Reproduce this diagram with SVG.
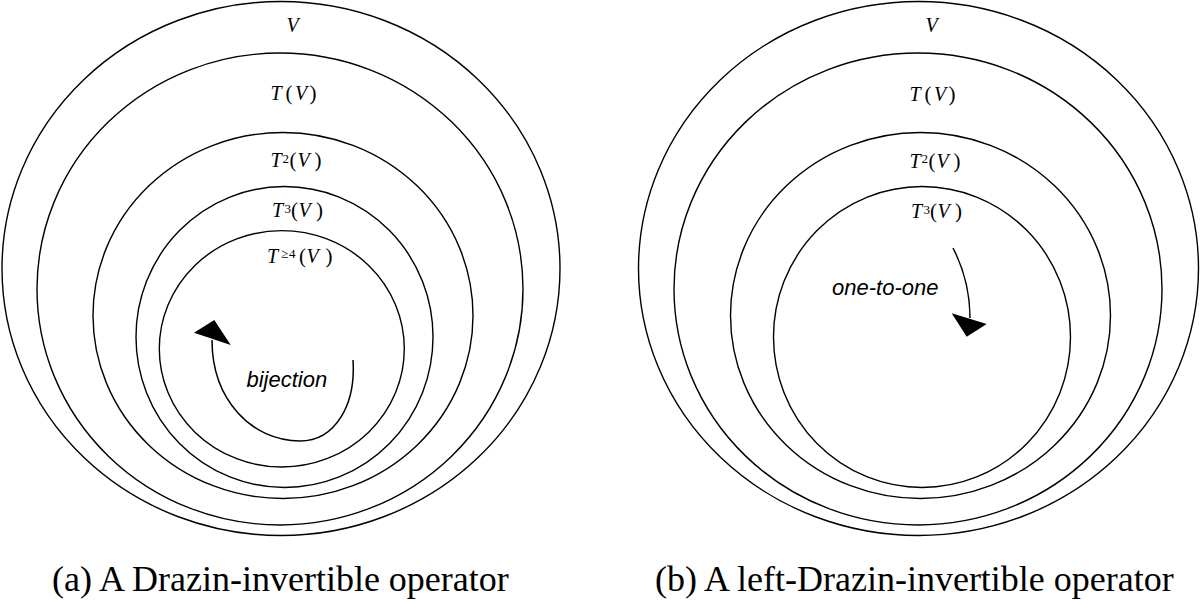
<svg xmlns="http://www.w3.org/2000/svg" width="1200" height="600" viewBox="0 0 1200 600">
<style>
.ring{fill:none;stroke:#000;stroke-width:1.4}
.conn{fill:none;stroke:#000;stroke-width:1.5}
.head{fill:#000;stroke:none}
.m{font-family:"Liberation Serif","Times New Roman",serif;font-size:20px;font-style:italic;fill:#000}
.p{font-family:"Liberation Serif","Times New Roman",serif;font-size:21px;font-style:normal;fill:#000}
.s{font-family:"Liberation Serif","Times New Roman",serif;font-size:13px;font-style:normal;fill:#000}
.lbl{font-family:"Liberation Sans",Arial,sans-serif;font-size:22px;font-style:italic;fill:#000}
.cap{font-family:"Liberation Serif","Times New Roman",serif;font-size:36px;fill:#000}
</style>
<rect width="1200" height="600" fill="#fff"/>

<!-- Panel (a) -->
<g id="a-V">
<ellipse class="ring" cx="281" cy="268.5" rx="279" ry="267"/>
<text class="m" x="286.5" y="31.7">V</text>
</g>
<g id="a-TV">
<ellipse class="ring" cx="280" cy="289" rx="243" ry="236"/>
<text y="100"><tspan class="m" x="270.5">T</tspan><tspan class="p" x="285.5">(</tspan><tspan class="m" x="295">V</tspan><tspan class="p" x="309.5">)</tspan></text>
</g>
<g id="a-T2V">
<ellipse class="ring" cx="283" cy="315.5" rx="190" ry="183"/>
<text y="166.7"><tspan class="m" x="270.5">T</tspan><tspan class="s" x="282.5" y="162.5">2</tspan><tspan class="p" x="289.5" y="166.7">(</tspan><tspan class="m" x="297.5">V</tspan><tspan class="p" x="314.5">)</tspan></text>
</g>
<g id="a-T3V">
<ellipse class="ring" cx="284.5" cy="337" rx="148.5" ry="150.5"/>
<text y="216.7"><tspan class="m" x="272">T</tspan><tspan class="s" x="284.5" y="212.5">3</tspan><tspan class="p" x="291" y="216.7">(</tspan><tspan class="m" x="298.5">V</tspan><tspan class="p" x="316">)</tspan></text>
</g>
<g id="a-T4V">
<ellipse class="ring" cx="281.8" cy="348.8" rx="122.5" ry="118.2"/>
<text y="263.3"><tspan class="m" x="267">T</tspan><tspan class="s" x="281" y="258">≥</tspan><tspan class="s" x="289" y="258">4</tspan><tspan class="p" x="299" y="263.3">(</tspan><tspan class="m" x="306.5">V</tspan><tspan class="p" x="325.5">)</tspan></text>
</g>
<g id="a-bijection">
<text class="lbl" x="246.5" y="387">bijection</text>
</g>

<!-- Panel (b) -->
<g id="b-V">
<ellipse class="ring" cx="918.5" cy="268.5" rx="280" ry="267"/>
<text class="m" x="925.5" y="31.7">V</text>
</g>
<g id="b-TV">
<ellipse class="ring" cx="918" cy="289" rx="244" ry="236"/>
<text y="100.5"><tspan class="m" x="909.5">T</tspan><tspan class="p" x="924.5">(</tspan><tspan class="m" x="934">V</tspan><tspan class="p" x="948.5">)</tspan></text>
</g>
<g id="b-T2V">
<ellipse class="ring" cx="920.5" cy="315.5" rx="190" ry="183"/>
<text y="167.5"><tspan class="m" x="909.5">T</tspan><tspan class="s" x="921.5" y="163.3">2</tspan><tspan class="p" x="928.5" y="167.5">(</tspan><tspan class="m" x="936.5">V</tspan><tspan class="p" x="953.5">)</tspan></text>
</g>
<g id="b-T3V">
<ellipse class="ring" cx="922" cy="337" rx="148.5" ry="150.5"/>
<text y="218"><tspan class="m" x="911">T</tspan><tspan class="s" x="923.5" y="213.8">3</tspan><tspan class="p" x="930" y="218">(</tspan><tspan class="m" x="937.5">V</tspan><tspan class="p" x="955">)</tspan></text>
</g>
<g id="b-onetoone">
<text class="lbl" x="832" y="295">one-to-one</text>
</g>

<!-- Connectors -->
<g id="connectors">
<path class="conn" d="M353,360 C356,405 335,441 300,441 C252,441 212,400 212,340"/>
<polygon class="head" points="194,332.7 214.3,320 230.7,345"/>
<path class="conn" d="M953,248 A153,153 0 0,1 970,318"/>
<polygon class="head" points="951.7,313.3 986.7,324 966.7,336.7"/>
</g>

<!-- Captions -->
<g id="captions">
<text class="cap" x="52" y="591">(a) A Drazin-invertible operator</text>
<text class="cap" x="655" y="591">(b) A left-Drazin-invertible operator</text>
</g>
</svg>
